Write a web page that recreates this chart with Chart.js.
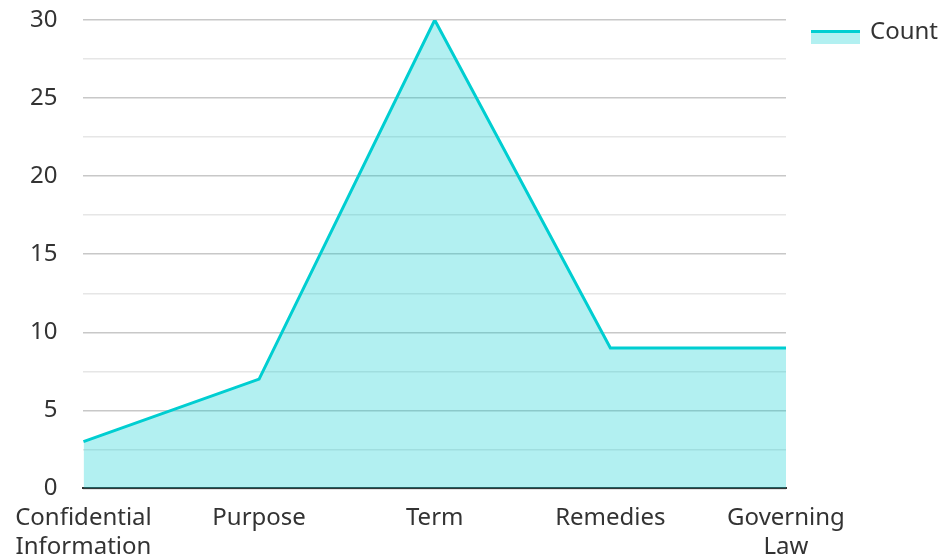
<!DOCTYPE html>
<html>
<head>
<meta charset="utf-8">
<script src="https://cdn.jsdelivr.net/npm/chart.js@4"></script>
<style>
html,body{margin:0;padding:0;background:#fff;}
#wrap{width:943px;height:558px;position:relative;}
</style>
</head>
<body>
<div id="wrap"><canvas id="c"></canvas></div>
<script>
const categories = [["Confidential","Information"], "Purpose", "Term", "Remedies", ["Governing","Law"]];
const countValues = [3, 7, 30, 9, 9];
const seriesName = "Count";

const FONT = "'Noto Sans', 'Open Sans', sans-serif";
const LINE = 'rgb(0,206,209)';
const FILL = 'rgba(0,206,209,0.3)';
Chart.defaults.font.family = FONT;
Chart.defaults.color = "#333";

const legendPlugin = {
  id: 'customLegend',
  afterDraw(chart) {
    const ctx = chart.ctx;
    const ds = chart.data.datasets[0];
    const x0 = 811, w = 49, yTop = 30, h = 14;
    ctx.save();
    ctx.fillStyle = FILL;
    ctx.fillRect(x0, yTop, w, h);
    ctx.strokeStyle = LINE;
    ctx.lineWidth = 3;
    ctx.beginPath();
    ctx.moveTo(x0, yTop + 1.5);
    ctx.lineTo(x0 + w, yTop + 1.5);
    ctx.stroke();
    ctx.fillStyle = '#333';
    ctx.font = "24px " + FONT;
    ctx.textBaseline = 'middle';
    ctx.textAlign = 'left';
    ctx.fillText(ds.label, 870, 32);
    ctx.restore();
  }
};

new Chart(document.getElementById('c'), {
  type: 'line',
  data: {
    labels: categories,
    datasets: [{
      label: seriesName,
      data: countValues,
      borderColor: LINE,
      backgroundColor: FILL,
      borderWidth: 3,
      fill: 'origin',
      pointRadius: 0,
      tension: 0
    }]
  },
  options: {
    responsive: true,
    maintainAspectRatio: false,
    animation: false,
    layout: { padding: { top: 20, right: 157, left: 4, bottom: -19 } },
    plugins: {
      legend: { display: false },
      tooltip: { enabled: false }
    },
    scales: {
      x: {
        offset: false,
        grid: { display: false, drawTicks: false },
        border: { display: true, color: '#333', width: 2 },
        ticks: { font: { size: 24, lineHeight: 1.22 }, color: '#333', maxRotation: 0, padding: 15, autoSkip: false }
      },
      y: {
        min: 0, max: 30,
        border: { display: false },
        grid: {
          drawTicks: false,
          color: (ctx) => (ctx.tick && ctx.tick.value % 5 === 0) ? '#c8c8c8' : '#e6e6e6',
          lineWidth: 1.5
        },
        afterFit: (scale) => { scale.paddingTop = 0; scale.paddingBottom = 0; },
        ticks: {
          stepSize: 2.5,
          font: { size: 24 },
          color: '#333',
          padding: 26,
          autoSkip: false,
          callback: (v) => (v % 5 === 0 ? String(v) : '')
        }
      }
    }
  },
  plugins: [legendPlugin]
});
</script>
</body>
</html>
